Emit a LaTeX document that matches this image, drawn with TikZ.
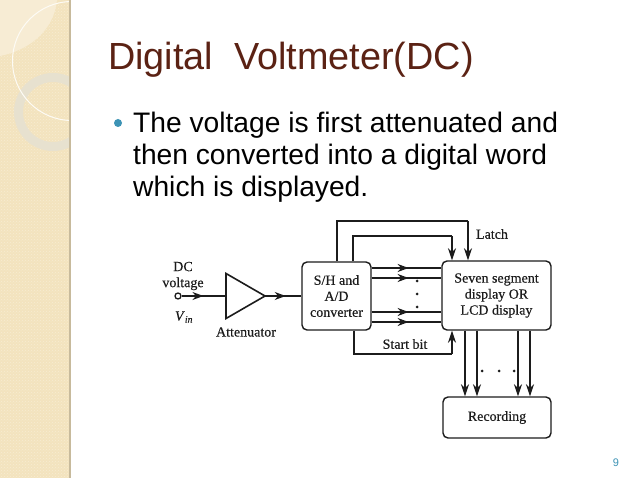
\documentclass[tikz,border=0pt]{standalone}
\usepackage{fontspec}
\setmainfont{Liberation Sans}
\newfontfamily\figfont[FakeBold=0.4]{Liberation Serif}
\usetikzlibrary{arrows.meta,decorations.markings,shapes.geometric,patterns}
\definecolor{panelcol}{HTML}{F3E3BE}
\definecolor{paneldot}{HTML}{F7ECD2}
\definecolor{panelhi}{HTML}{F7ECD4}
\definecolor{ringcol}{HTML}{E7E1CF}
\definecolor{titlecol}{HTML}{5B2214}
\definecolor{bulletcol}{HTML}{3D93B5}
\definecolor{inkcol}{HTML}{1C1C1C}
\tikzset{
  x=1pt,y=-1pt,
  blockbox/.style={draw=inkcol,line width=1.4pt,rounded corners=5pt,inner sep=0pt,fill=white,
    font=\figfont\fontsize{14}{16}\selectfont,align=center,text=inkcol},
  figlabel/.style={font=\figfont\fontsize{14}{16}\selectfont,align=center,text=inkcol,inner sep=0pt},
  wire/.style={draw=inkcol,line width=1.4pt},
  midarrow/.style={wire,postaction={decorate},decoration={markings,
    mark=at position #1 with {\arrow{Stealth[length=11pt,width=8pt]}}}},
  endarrow/.style={wire,-{Stealth[length=12pt,width=8pt]}},
  dotmark/.style={circle,fill=inkcol,inner sep=0pt,minimum size=3pt},
  bodyline/.style={anchor=base west,inner sep=0pt,text=black,font=\fontsize{28.2}{32}\selectfont}
}
\begin{document}
\begin{tikzpicture}
  \useasboundingbox (0,0) rectangle (638,478);
  \fill[white] (0,0) rectangle (638,478);
  \fill[panelcol] (0,0) rectangle (70,478);
  \fill[pattern=crosshatch dots,pattern color=paneldot] (0,0) rectangle (70,478);
  \begin{scope}
    \clip (0,0) rectangle (70,478);
    \fill[panelhi] (0,0) -- (57,0) .. controls (54,30) and (30,50) .. (0,56) -- cycle;
    \draw[ringcol,line width=9pt] (53,112) circle (34.5);
    \draw[white!85!panelcol,line width=1pt] (72,61) circle (59.5);
  \end{scope}
  \fill[black!18!panelcol] (69,0) rectangle (71,478);

  \node[anchor=base west,inner sep=0pt,text=titlecol,font=\fontsize{37.8}{42}\selectfont] (title) at (108,70) {Digital\ \ Voltmeter(DC)};
  \node[circle,fill=bulletcol,inner sep=0pt,minimum size=8pt] (bullet) at (118,123) {};
  \node[bodyline] (line1) at (133,133) {The voltage is first attenuated and};
  \node[bodyline] (line2) at (133,165) {then converted into a digital word};
  \node[bodyline] (line3) at (133,197) {which is displayed.};
  \node[text=bulletcol,font=\fontsize{11}{13}\selectfont,inner sep=0pt] (pagenum) at (616,463) {9};

  \node[blockbox,minimum width=69pt,minimum height=68pt] (shbox) at (336.5,296) {S/H and\\A/D\\converter};
  \node[blockbox,minimum width=109pt,minimum height=69pt] (dispbox) at (496.5,295.5) {Seven segment\\display OR\\LCD display};
  \node[blockbox,minimum width=108pt,minimum height=41pt] (recbox) at (497,417.5) {Recording};
  \node[draw=inkcol,line width=1.6pt,regular polygon,regular polygon sides=3,shape border rotate=-90,
    minimum size=52pt,inner sep=0pt] (atten) at (239,296) {};
  \node[circle,draw=inkcol,line width=1.3pt,fill=white,inner sep=0pt,minimum size=6pt] (vin) at (178,296) {};

  \node[figlabel] (dclabel) at (183,276) {DC\\voltage};
  \node[figlabel] (vinlabel) at (184,317) {\textit{V}\textsubscript{\textit{in}}};
  \node[figlabel] (attlabel) at (246,332) {Attenuator};
  \node[figlabel] (latchlabel) at (492,234) {Latch};
  \node[figlabel] (startlabel) at (405,344) {Start bit};

  \coordinate (latchup) at (337,221);
  \coordinate (latchdn) at (468,221);
  \coordinate (holdup) at (353,236);
  \coordinate (holddn) at (452,236);
  \coordinate (startlo) at (354,354);
  \coordinate (startri) at (452,354);

  \draw[midarrow=0.5] (vin) -- (atten.side 2);
  \draw[midarrow=0.55,shorten <=-4pt] (atten.corner 1) -- (shbox.west);
  \draw[wire] (latchup |- shbox.north) -- (latchup) -- (latchdn);
  \draw[endarrow] (latchdn) -- (latchdn |- dispbox.north);
  \draw[wire] (holdup |- shbox.north) -- (holdup) -- (holddn);
  \draw[endarrow] (holddn) -- (holddn |- dispbox.north);
  \draw[wire] (startlo |- shbox.south) -- (startlo) -- (startri);
  \draw[endarrow] (startri) -- (startri |- dispbox.south);

  \foreach \ypos in {268,278,312,322}
    \draw[midarrow=0.53] (shbox.east |- 0,\ypos) -- (dispbox.west |- 0,\ypos);
  \foreach \xpos in {465,477,518,530}
    \draw[endarrow] (\xpos,0 |- dispbox.south) -- (\xpos,0 |- recbox.north);

  \foreach \ypos in {281,294,307}
    \node[dotmark] (vdot\ypos) at (417,\ypos) {};
  \foreach \xpos in {482,499,514}
    \node[dotmark] (hdot\xpos) at (\xpos,371) {};
\end{tikzpicture}
\end{document}
